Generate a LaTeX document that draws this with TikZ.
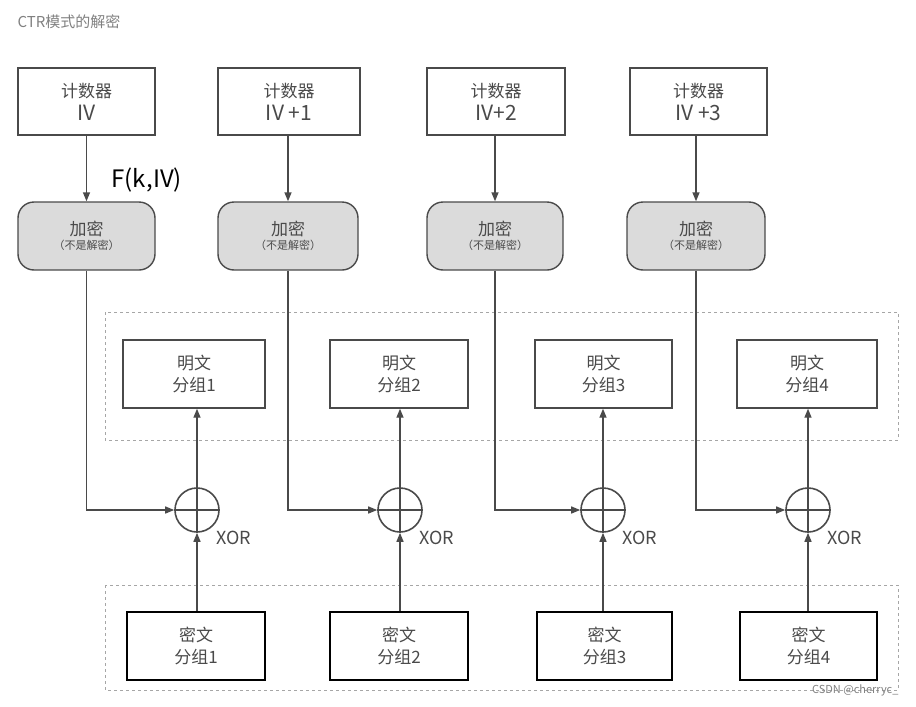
\documentclass[tikz,border=0pt]{standalone}
\usepackage{fontspec}
\setmainfont{Noto Sans CJK SC}
\usetikzlibrary{arrows.meta}
\definecolor{ln}{HTML}{4A4A4A}
\begin{document}
\begin{tikzpicture}[x=1pt,y=-1pt,
 box/.style={draw=ln,line width=1.4pt,fill=white,align=center,font=\fontsize{17}{22}\selectfont,text=ln,inner sep=0pt},
 cbox/.style={draw=black,line width=2.4pt,fill=white,align=center,font=\fontsize{17}{22}\selectfont,text=ln,inner sep=0pt},
 enc/.style={draw=ln,line width=1.4pt,fill=gray!28,rounded corners=16pt,align=center,text=ln,inner sep=0pt},
 arr/.style={draw=ln,line width=1.4pt,-{Triangle[length=9pt,width=7pt]}},
 grp/.style={draw=gray!70,dashed,line width=0.8pt},
 xorc/.style={draw=ln,line width=1.6pt,circle,minimum size=44pt,inner sep=0pt}]
\useasboundingbox (0,0) rectangle (916,707);
\node[anchor=west,text=gray,font=\fontsize{15}{17}\selectfont] (title) at (14,22) {CTR模式的解密};
\draw[grp] (105,312) rectangle (898,440);
\draw[grp] (105,585) rectangle (898,690);
\foreach \i/\xa/\xb/\lab in {1/18/155/IV,2/218/360/IV +1,3/427/565/IV+2,4/630/767/IV +3}{
  \node[box,minimum width={\xb-\xa},minimum height=67pt] (c\i) at ({(\xa+\xb)/2},101.5) {计数器\\[1pt]{\fontsize{21}{22}\selectfont\lab}};
}
\foreach \i/\xa/\xb in {1/18/155,2/218/358,3/427/563,4/627/765}{
  \node[enc,minimum width={\xb-\xa},minimum height=68pt] (e\i) at ({(\xa+\xb)/2},236) {{\fontsize{17}{20}\selectfont 加密}\\[2pt]{\fontsize{11}{13}\selectfont （不是解密）}};
  \draw[arr] (c\i.south -| e\i.north) -- (e\i.north);
}
\foreach \i/\xa/\xb in {1/123/265,2/330/468,3/535/672,4/737/877}{
  \node[box,minimum width={\xb-\xa},minimum height=68pt] (p\i) at ({(\xa+\xb)/2},374) {明文\\分组\i};
}
\foreach \i/\xa/\xb in {1/127/265,2/330/468,3/537/672,4/740/877}{
  \node[cbox,minimum width={\xb-\xa},minimum height=68pt] (k\i) at ({(\xa+\xb)/2},646) {密文\\分组\i};
}
\foreach \i/\x in {1/197,2/400,3/603,4/808}{
  \node[xorc] (x\i) at (\x,510) {};
  \draw[ln,line width=1.6pt] (x\i.north) -- (x\i.south) (x\i.west) -- (x\i.east);
  \node[anchor=west,text=ln,font=\fontsize{18}{20}\selectfont] (xl\i) at (\x+16,538) {XOR};
  \draw[arr] (e\i.south) |- (x\i.west);
  \draw[arr] (x\i.north) -- (x\i.north |- p\i.south);
  \draw[arr] (k\i.north -| x\i.south) -- (x\i.south);
}
\node[anchor=west,font=\fontsize{24}{26}\selectfont] (f) at (108,180) {F(k,IV)};
\node[anchor=east,text=gray,font=\fontsize{11}{13}\selectfont] (wm) at (902,690) {CSDN @cherryc\_};
\end{tikzpicture}
\end{document}
